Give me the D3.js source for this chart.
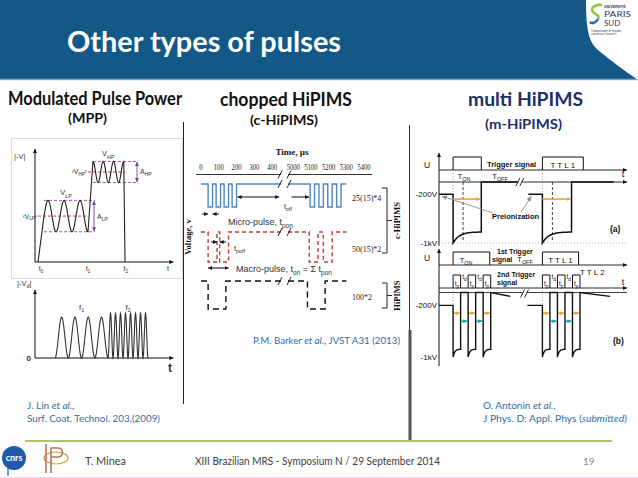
<!DOCTYPE html>
<html>
<head>
<meta charset="utf-8">
<script src="https://cdn.jsdelivr.net/npm/d3@7"></script>
<style>
    body { margin: 0; background: #fff; }
    svg { display: block; }
    .sans { font-family: "Liberation Sans", Arial, sans-serif; }
    .serif { font-family: "Liberation Serif", "Times New Roman", serif; }
    .slide { font-family: Lato, "Open Sans", sans-serif; }
</style>
</head>
<body>
<script>
// ---------- data: MPP (Lin et al.) ----------
var mppTickLabels = ['t0', 't1', 't2', 't'];
var mppTickPos = [4.4, 38.7, 66.4, 97];
var mppLevels = [
    { name: 'LP', mean: 41, amp: 14, from: 6.6, period: 11.67, phase: 0, cycles: 2.75 },
    { name: 'HP', mean: 80.4, amp: 9.4, from: 42.3, period: 7.5, phase: 0.25, cycles: 3 }
];
var mppGuides = [
    { meanFrom: 2.2, meanTo: 38.7, boundFrom: 6.6, boundTo: 43.8 },
    { meanFrom: 38.7, meanTo: 65.7, boundFrom: 42.3, boundTo: 75.2 }
];
var mppEdges = [2.2, 65.7];
var mppBursts = [
    { label: '1', from: 14.6, count: 4, width: 9.7, peak: 65 },
    { label: '2', from: 53.3, count: 8, width: 3.65, peak: 71 }
];

// ---------- data: chopped HiPIMS (Barker et al.) ----------
var timeTicks = [0, 100, 200, 300, 400, 5000, 5100, 5200, 5300, 5400];
var traceLabels = ['25(15)*4', '50(15)*2', '100*2'];
var traceWidths = [25, 50, 100];
var traceStarts = [
    [40, 85, 130, 175, 5095, 5145, 5195, 5245],
    [40, 105, 5090, 5170],
    [40, 5080]
];
var traceEnd = 5300;
var groupLabels = ['c-HiPIMS', 'HiPIMS'];

// ---------- data: multi HiPIMS (Antonin et al.) ----------
var trigA = [[15, 45], [110, 153.5]];
var pulsesA = [
    { pre: 0, on: 15, off: 45, tail: 86 },
    { pre: 95, on: 110, off: 141, tail: 186 }
];
var trig1B = [[15, 54], [110, 148.5]];
var trig2B = [[15, 31, 47], [110, 126, 142]];
var pulseWidthB = 8;
var preB = [0, 94];
var tailB = [76, 182];
var voltTicks = [-200, -1000];
var voltLabels = ['-200V', '-1kV'];
var vPre = -200, vPeak = -1000, vRecA = -820, vRecB = -880, vTailB = -60;

var W = 638, H = 478;
var svg = d3.select('body').append('svg').attr('width', W).attr('height', H);
var defs = svg.append('defs');

function addMarker(id, color, size) {
    defs.append('marker')
        .attr('id', id)
        .attr('viewBox', '0 0 10 10')
        .attr('refX', 10).attr('refY', 5)
        .attr('markerUnits', 'userSpaceOnUse')
        .attr('markerWidth', size).attr('markerHeight', size)
        .attr('orient', 'auto-start-reverse')
        .append('path').attr('d', 'M0,0 L10,5 L0,10 z').attr('fill', color);
}
addMarker('ahK', '#111', 5);
addMarker('ahS', '#111', 4);
addMarker('ahP', '#7d3c98', 4);
addMarker('ahG', '#8a8a8a', 5);
addMarker('ahO', '#f0a030', 4);
addMarker('ahT', '#1aa3b0', 4);

// text with sub / italic parts
function rich(parent, x, y, parts, o) {
    var t = parent.append('text')
        .attr('x', x).attr('y', y)
        .attr('class', o.cls || 'sans')
        .attr('font-size', o.size)
        .attr('text-anchor', o.anchor || 'start')
        .attr('fill', o.fill || '#111');
    if (o.bold) t.attr('font-weight', 'bold');
    if (o.len) t.attr('textLength', o.len).attr('lengthAdjust', 'spacingAndGlyphs');
    if (o.rotate) t.attr('transform', 'rotate(' + o.rotate + ',' + x + ',' + y + ')');
    var shift = 0;
    parts.forEach(function (p) {
        var s = typeof p === 'string' ? [p, null] : p;
        var ts = t.append('tspan').text(s[0]);
        var target = 0;
        if (s[1] === 'sub') {
            target = o.size * 0.28;
            ts.attr('font-size', o.size * 0.72);
        }
        if (s[1] === 'it') ts.attr('font-style', 'italic');
        if (target !== shift) { ts.attr('dy', target - shift); shift = target; }
    });
    return t;
}

function seg(g, x1, y1, x2, y2, stroke, w, extra) {
    var l = g.append('line')
        .attr('x1', x1).attr('y1', y1).attr('x2', x2).attr('y2', y2)
        .attr('stroke', stroke).attr('stroke-width', w);
    if (extra) Object.keys(extra).forEach(function (k) { l.attr(k, extra[k]); });
    return l;
}

function slashes(g, x, y, gap) {
    g.append('rect').attr('x', x - gap / 2).attr('y', y - 1.5).attr('width', gap).attr('height', 3).attr('fill', '#fff');
    [-gap / 2, gap / 2].forEach(function (d) {
        seg(g, x + d - 2, y + 4, x + d + 2, y - 4, '#111', 0.9);
    });
}

var line = d3.line();

// ---------- header ----------
svg.append('rect').attr('width', W).attr('height', 79).attr('fill', '#135887');
seg(svg, 0, 79.5, W, 79.5, '#7aa4c4', 1.5);
svg.append('path').attr('d', 'M586,0 H638 V80 C625,71 610,60 598,50 C589,42 586,32 586,0 Z').attr('fill', '#fff');

var logo = svg.append('g');
logo.append('path').attr('d', 'M602,5 C594,4 589,9 594,13 C597,15 600,16 598,19')
    .attr('fill', 'none').attr('stroke', '#8cc63f').attr('stroke-width', 2.6);
logo.append('path').attr('d', 'M598,19 C596,23 592,24 590,22')
    .attr('fill', 'none').attr('stroke', '#1f6fb2').attr('stroke-width', 2.6);
logo.append('text').attr('x', 604).attr('y', 7.5).attr('class', 'sans').attr('font-size', 3.6)
    .attr('fill', '#2b3d6b').attr('font-weight', 'bold').text('UNIVERSITÉ');
logo.append('text').attr('x', 604).attr('y', 17).attr('class', 'slide').attr('font-size', 8)
    .attr('fill', '#2b3d6b').attr('textLength', 27).attr('lengthAdjust', 'spacingAndGlyphs').text('PARIS');
logo.append('text').attr('x', 604).attr('y', 26).attr('class', 'slide').attr('font-size', 8)
    .attr('fill', '#2b3d6b').text('SUD');
logo.append('text').attr('x', 591).attr('y', 31.5).attr('class', 'sans').attr('font-size', 3)
    .attr('fill', '#444').text('Comprendre le monde,');
logo.append('text').attr('x', 591).attr('y', 35).attr('class', 'sans').attr('font-size', 3)
    .attr('fill', '#444').text('construire l\u2019avenir\u00ae');

svg.append('text').attr('x', 67).attr('y', 52).attr('class', 'slide')
    .attr('font-weight', 700).attr('font-size', 28).attr('fill', '#fff')
    .attr('textLength', 274).attr('lengthAdjust', 'spacingAndGlyphs')
    .text('Other types of pulses');

// ---------- section titles ----------
rich(svg, 8, 105, ['Modulated Pulse Power'], { cls: 'slide', size: 18, bold: true, len: 174 });
rich(svg, 68, 123, ['(MPP)'], { cls: 'slide', size: 14, bold: true, len: 39 });
rich(svg, 220, 106, ['chopped HiPIMS'], { cls: 'slide', size: 19, bold: true, len: 132 });
rich(svg, 250, 125, ['(c-HiPIMS)'], { cls: 'slide', size: 14, bold: true, len: 68 });
rich(svg, 468, 106, ['multi HiPIMS'], { cls: 'slide', size: 19, bold: true, len: 115, fill: '#1c2f66' });
rich(svg, 485, 129, ['(m-HiPIMS)'], { cls: 'slide', size: 14, bold: true, len: 77, fill: '#1c2f66' });

// separators
seg(svg, 183.5, 122, 183.5, 404, '#222', 1);
seg(svg, 409.5, 125, 409.5, 330, '#333', 1);
seg(svg, 410, 330, 410, 440, '#555', 3);

// ---------- MPP panel ----------
var mpp = svg.append('g');
var mx = d3.scaleLinear().domain([0, 100]).range([35, 172]);
var myU = d3.scaleLinear().domain([0, 100]).range([262, 150]);
var myL = d3.scaleLinear().domain([0, 100]).range([358, 295]);

mpp.append('rect').attr('x', 11.5).attr('y', 138.5).attr('width', 171).attr('height', 140)
    .attr('fill', 'none').attr('stroke', '#dcdcdc');

seg(mpp, mx(0), myU(0), mx(0), 149, '#111', 1, { 'marker-end': 'url(#ahS)' });
seg(mpp, mx(0), myU(0), mx(101), myU(0), '#111', 1, { 'marker-end': 'url(#ahS)' });
rich(mpp, 14, 159, ['|-V|'], { size: 7.5, fill: '#333' });
mppTickLabels.forEach(function (lb, i) {
    var parts = lb.length > 1 ? [lb[0], [lb.slice(1), 'sub']] : [lb];
    rich(mpp, mx(mppTickPos[i]), 271, parts, { size: 7, anchor: 'middle', fill: '#333' });
});

function levelPoints(lv) {
    var pts = [], n = Math.round(lv.cycles * 40);
    for (var i = 0; i <= n; i++) {
        var x = lv.from + lv.period * lv.cycles * i / n;
        pts.push([x, lv.mean + lv.amp * Math.sin(2 * Math.PI * (lv.phase + (x - lv.from) / lv.period))]);
    }
    return pts;
}

// guides under the wave
mppLevels.forEach(function (lv, i) {
    var gd = mppGuides[i];
    seg(mpp, mx(gd.meanFrom), myU(lv.mean), mx(gd.meanTo), myU(lv.mean), '#e03b3b', 1, { 'stroke-dasharray': '3,2' });
    [lv.mean + lv.amp, lv.mean - lv.amp].forEach(function (v) {
        seg(mpp, mx(gd.boundFrom), myU(v), mx(gd.boundTo), myU(v), '#9b59b6', 1, { 'stroke-dasharray': '3,2' });
    });
    var ax = mx(gd.boundTo) - 1;
    seg(mpp, ax, myU(lv.mean), ax, myU(lv.mean + lv.amp) + 0.5, '#7d3c98', 0.9, { 'marker-end': 'url(#ahP)' });
    seg(mpp, ax, myU(lv.mean), ax, myU(lv.mean - lv.amp) - 0.5, '#7d3c98', 0.9, { 'marker-end': 'url(#ahP)' });
    rich(mpp, ax + 3, myU(lv.mean) + 2.5, ['A', [lv.name, 'sub']], { size: 7, fill: '#333' });
    rich(mpp, mx(gd.meanFrom) - 1, myU(lv.mean) + 2.5, ['\u2039V', [lv.name, 'sub'], '\u203a'], { size: 6.5, anchor: 'end', fill: '#333' });
    var mid = lv.from + lv.period * lv.cycles / 2;
    rich(mpp, mx(mid), myU(lv.mean + lv.amp) - 5, ['V', [lv.name, 'sub']], { size: 7.5, anchor: 'middle', fill: '#333' });
});

var upperPts = [[mppEdges[0], 0]].concat(levelPoints(mppLevels[0]), levelPoints(mppLevels[1]), [[mppEdges[1], 0]]);
mpp.append('path')
    .attr('d', line(upperPts.map(function (p) { return [mx(p[0]), myU(p[1])]; })))
    .attr('fill', 'none').attr('stroke', '#222').attr('stroke-width', 1.1);

// current bursts
seg(mpp, mx(0), myL(0), mx(0), 290, '#111', 1, { 'marker-end': 'url(#ahS)' });
seg(mpp, mx(0), myL(0), mx(101), myL(0), '#111', 1, { 'marker-end': 'url(#ahS)' });
rich(mpp, 17, 286, ['|-V', ['d', 'sub'], '|'], { size: 7.5, fill: '#333' });
rich(mpp, 31, 361, ['0'], { size: 8, anchor: 'end', bold: true, fill: '#333' });
rich(mpp, 170, 372, ['t'], { size: 12, anchor: 'middle', bold: true, fill: '#333' });

function burstPoints(b) {
    var pts = [], n = 24;
    for (var k = 0; k < b.count; k++) {
        for (var i = 0; i <= n; i++) {
            var s = i / n;
            pts.push([b.from + (k + s) * b.width, b.peak * (1 - Math.cos(2 * Math.PI * s)) / 2]);
        }
    }
    return pts;
}
var lowerPts = [];
mppBursts.forEach(function (b) {
    lowerPts = lowerPts.concat(burstPoints(b));
    rich(mpp, mx(b.from + b.count * b.width / 2), 310, ['f', [b.label, 'sub']], { size: 7.5, anchor: 'middle', fill: '#333' });
});
mpp.append('path')
    .attr('d', line(lowerPts.map(function (p) { return [mx(p[0]), myL(p[1])]; })))
    .attr('fill', 'none').attr('stroke', '#333').attr('stroke-width', 1.1);

rich(mpp, 27, 409, ['J. Lin ', ['et al.', 'it'], ','], { cls: 'slide', size: 10, fill: '#2f6fa8' });
rich(mpp, 27, 422, ['Surf. Coat. Technol. 203,(2009)'], { cls: 'slide', size: 10, fill: '#2f6fa8', len: 133 });

// ---------- chopped HiPIMS panel ----------
var ch = svg.append('g');
var tx = d3.scaleLinear().domain([0, 450, 4970, 5400]).range([201, 281, 288, 364]);

rich(ch, 292, 155, ['Time, \u00b5s'], { cls: 'serif', size: 9, bold: true, anchor: 'middle' });
timeTicks.forEach(function (t) {
    rich(ch, tx(t), 169.5, [String(t)], { cls: 'serif', size: 7.5, anchor: 'middle', fill: '#222', len: String(t).length * 3.3 });
});
seg(ch, 196, 174.5, tx(450), 174.5, '#333', 1);
seg(ch, tx(4970), 174.5, 372, 174.5, '#333', 1);

var rows = [
    { hi: 184, lo: 207, color: '#4f86c0', dash: null },
    { hi: 232, lo: 262, color: '#c23a30', dash: '4,3' },
    { hi: 281, lo: 309, color: '#111', dash: '6,4' }
];

function tracePoints(starts, width, from, to) {
    var pts = [[from, 1]];
    starts.filter(function (s) { return s >= from && s <= to; }).forEach(function (s) {
        pts.push([s, 1], [s, 0], [s + width, 0], [s + width, 1]);
    });
    pts.push([to, 1]);
    return pts;
}

traceStarts.forEach(function (starts, i) {
    var r = rows[i];
    var ty = d3.scaleLinear().domain([0, 1]).range([r.lo, r.hi]);
    [[0, 450], [4970, traceEnd]].forEach(function (span) {
        var p = ch.append('path')
            .attr('d', line(tracePoints(starts, traceWidths[i], span[0], span[1]).map(function (q) { return [tx(q[0]), ty(q[1])]; })))
            .attr('fill', 'none').attr('stroke', r.color).attr('stroke-width', 1.4);
        if (r.dash) p.attr('stroke-dasharray', r.dash);
    });
    rich(ch, 352, (r.hi + r.lo) / 2 + 5, [traceLabels[i]], { cls: 'serif', size: 8, fill: '#222' });
});
[174.5, rows[0].hi, rows[1].hi, rows[2].hi].forEach(function (y) {
    [tx(450) - 1, tx(4970) + 1].forEach(function (x) {
        seg(ch, x - 2, y + 4, x + 2, y - 4, '#111', 0.9);
    });
});

// annotations
seg(ch, tx(200) + 1, 197, tx(440), 197, '#111', 1, { 'marker-start': 'url(#ahS)', 'marker-end': 'url(#ahS)' });
seg(ch, tx(4990), 197, tx(5095) - 1, 197, '#111', 1, { 'marker-end': 'url(#ahS)' });
rich(ch, 284, 209, ['t', ['off', 'sub']], { size: 7.5, fill: '#333' });

seg(ch, 202, 214, tx(40), 214, '#111', 1, { 'marker-end': 'url(#ahS)' });
seg(ch, 219, 214, tx(65), 214, '#111', 1, { 'marker-end': 'url(#ahS)' });
rich(ch, 228, 225, ['Micro-pulse, t', ['pon', 'sub']], { size: 9, fill: '#333' });

seg(ch, 211, 242, tx(90), 242, '#111', 1, { 'marker-end': 'url(#ahS)' });
seg(ch, 226, 242, tx(105), 242, '#111', 1, { 'marker-end': 'url(#ahS)' });
rich(ch, 234, 251, ['t', ['poff', 'sub']], { size: 7.5, fill: '#333' });

seg(ch, tx(40), 268, tx(155), 268, '#111', 1.1, { 'marker-start': 'url(#ahS)', 'marker-end': 'url(#ahS)' });
rich(ch, 236, 272, ['Macro-pulse, t', ['on', 'sub'], ' = \u03a3 t', ['pon', 'sub']], { size: 9, fill: '#333' });

rich(ch, 191, 237, ['Voltage, v'], { cls: 'serif', size: 8.5, bold: true, anchor: 'middle', rotate: -90 });

// group brackets
[[188, 253], [283, 308]].forEach(function (b, i) {
    ch.append('path').attr('d', 'M382,' + b[0] + ' H387 V' + b[1] + ' H382 M387,' + ((b[0] + b[1]) / 2) + ' H392')
        .attr('fill', 'none').attr('stroke', '#222').attr('stroke-width', 1);
    rich(ch, 400, (b[0] + b[1]) / 2, [groupLabels[i]], { cls: 'serif', size: 8.5, bold: true, anchor: 'middle', rotate: -90 });
});

rich(ch, 253, 344, ['P.M. Barker ', ['et al.', 'it'], ', JVST A31 (2013)'], { cls: 'slide', size: 10, fill: '#2f6fa8', len: 147 });

// ---------- multi HiPIMS panel ----------
var mh = svg.append('g');
var rx = d3.scaleLinear().domain([0, 200]).range([439, 627]);
var va = d3.scaleLinear().domain([0, -1000]).range([182, 243]);
var vb = d3.scaleLinear().domain([0, -1000]).range([292.5, 357]);

function box(g, x1, x2, yb, h) {
    g.append('path').attr('d', 'M' + x1 + ',' + yb + ' V' + (yb - h) + ' H' + x2 + ' V' + yb)
        .attr('fill', 'none').attr('stroke', '#111').attr('stroke-width', 1);
}

function recovery(on, off, vEnd) {
    var pts = [], n = 20, tau = (off - on) * 0.22;
    for (var i = 0; i <= n; i++) {
        var t = on + (off - on) * i / n;
        pts.push([t, vPeak + (vEnd - vPeak) * (1 - Math.exp(-(t - on) / tau)) / (1 - Math.exp(-(off - on) / tau))]);
    }
    return pts;
}

// axes
seg(mh, rx(0), va(-1000) + 3, rx(0), 153, '#111', 1, { 'marker-end': 'url(#ahS)' });
seg(mh, rx(0), 366, rx(0), 249, '#111', 1, { 'marker-end': 'url(#ahS)' });
[170, va(0), 265, 288].forEach(function (y) {
    seg(mh, rx(0), y, rx(200), y, '#111', 0.9, { 'marker-end': 'url(#ahS)' });
});
seg(mh, rx(0), vb(0), rx(200), vb(0), '#111', 0.8);
seg(mh, rx(0), va(-1000), rx(200), va(-1000), '#999', 0.8, { 'stroke-dasharray': '1,2' });
rich(mh, 427, 168, ['U'], { size: 8.5, anchor: 'middle' });
rich(mh, 427, 261, ['U'], { size: 8.5, anchor: 'middle' });
rich(mh, 623, 177, ['t'], { size: 9, anchor: 'middle' });
rich(mh, 623, 285, ['t'], { size: 9, anchor: 'middle' });
voltTicks.forEach(function (v, i) {
    rich(mh, 437, va(v) + 3, [voltLabels[i]], { size: 8, anchor: 'end' });
    rich(mh, 437, vb(v) + 3, [voltLabels[i]], { size: 8, anchor: 'end' });
});

// (a) trigger and single pulses
trigA.forEach(function (r) { box(mh, rx(r[0]), rx(r[1]), 170, 13); });
rich(mh, 487, 167, ['Trigger  signal'], { size: 7.5, bold: true });
rich(mh, (rx(trigA[1][0]) + rx(trigA[1][1])) / 2, 167.5, ['T T L 1'], { size: 8, anchor: 'middle' });
rich(mh, 464, 179, ['T', ['ON', 'sub']], { size: 7.5, anchor: 'middle' });
rich(mh, 500, 179, ['T', ['OFF', 'sub']], { size: 7.5, anchor: 'middle' });

pulsesA.forEach(function (p) {
    seg(mh, rx(p.on), 170, rx(p.on), va(-1000), '#888', 0.8, { 'stroke-dasharray': '1,2' });
    var d = rx(p.on) + 10;
    seg(mh, d, va(0), d, va(-1000) - 2, '#111', 0.8, { 'stroke-dasharray': '3,2' });
    var pts = [[p.pre, vPre], [p.on, vPre]].concat(recovery(p.on, p.off, vRecA), [[p.off, 0], [p.tail, 0]]);
    mh.append('path')
        .attr('d', line(pts.map(function (q) { return [rx(q[0]), va(q[1])]; })))
        .attr('fill', 'none').attr('stroke', '#111').attr('stroke-width', 1.5);
    seg(mh, rx(p.on), va(-280), rx(p.off) - 1, va(-280), '#f0a030', 1.6, { 'marker-end': 'url(#ahO)' });
});
slashes(mh, rx(86), va(0), 4);
rich(mh, 492, 219, ['Preionization'], { size: 7.5, bold: true });
seg(mh, 493, 213, rx(0) + 3, va(-200) + 2, '#8a8a8a', 0.9, { 'marker-end': 'url(#ahG)' });
seg(mh, 521, 212, rx(pulsesA[1].pre) + 3, va(-200) + 2, '#8a8a8a', 0.9, { 'marker-end': 'url(#ahG)' });
rich(mh, 610, 232, ['(a)'], { size: 8.5, bold: true });

// (b) double trigger and pulse trains
trig1B.forEach(function (r) { box(mh, rx(r[0]), rx(r[1]), 265, 13); });
rich(mh, 466, 262.5, ['T', ['ON', 'sub']], { size: 7.5, anchor: 'middle' });
rich(mh, (rx(trig1B[1][0]) + rx(trig1B[1][1])) / 2, 262.5, ['T T L 1'], { size: 8, anchor: 'middle' });
rich(mh, 497, 254, ['1st Trigger'], { size: 7, bold: true });
rich(mh, 492, 262, ['signal'], { size: 7, bold: true });
rich(mh, 525, 262, ['T', ['OFF', 'sub']], { size: 7.5, anchor: 'middle' });
rich(mh, 497, 277, ['2nd Trigger'], { size: 7, bold: true });
rich(mh, 497, 285, ['signal'], { size: 7, bold: true });
rich(mh, 580, 275, ['T T L 2'], { size: 8 });

trig2B.forEach(function (group, gi) {
    group.forEach(function (s, k) {
        box(mh, rx(s), rx(s + pulseWidthB), 288, 13);
        rich(mh, (rx(s) + rx(s + pulseWidthB)) / 2, 286, ['t', ['p', 'sub']], { size: 6.5, anchor: 'middle' });
        if (k < group.length - 1) {
            rich(mh, (rx(s + pulseWidthB) + rx(group[k + 1])) / 2, 279, ['t', ['d', 'sub']], { size: 6.5, anchor: 'middle' });
            seg(mh, rx(s + pulseWidthB) + 1, vb(-445), rx(group[k + 1]) - 1, vb(-445), '#1aa3b0', 1.6, { 'marker-end': 'url(#ahT)' });
        }
        seg(mh, rx(s), vb(-320), rx(s + pulseWidthB) - 1, vb(-320), '#f0a030', 1.6, { 'marker-end': 'url(#ahO)' });
    });
    seg(mh, rx(group[0]), 288, rx(group[0]), vb(-200), '#888', 0.8, { 'stroke-dasharray': '1,2' });

    var pts = [[preB[gi], vPre]];
    group.forEach(function (s, k) {
        pts = pts.concat([[s, k === 0 ? vPre : 0]], recovery(s, s + pulseWidthB, vRecB), [[s + pulseWidthB, 0]]);
    });
    pts.push([tailB[gi], vTailB]);
    mh.append('path')
        .attr('d', line(pts.map(function (q) { return [rx(q[0]), vb(q[1])]; })))
        .attr('fill', 'none').attr('stroke', '#111').attr('stroke-width', 1.4);
});
slashes(mh, rx(91), vb(0) + 1, 4);
rich(mh, 613, 344, ['(b)'], { size: 8.5, bold: true });

rich(mh, 483, 409, ['O. Antonin  ', ['et al.', 'it'], ','], { cls: 'slide', size: 10, fill: '#2f6fa8' });
rich(mh, 483, 422, ['J Phys. D:  Appl. Phys (', ['submitted', 'it'], ')'], { cls: 'slide', size: 10, fill: '#2f6fa8', len: 144 });

// ---------- footer ----------
seg(svg, 25, 441, 612, 441, '#8fb23e', 1.5);
svg.append('circle').attr('cx', 14).attr('cy', 458).attr('r', 12).attr('fill', '#1d5aa7');
svg.append('text').attr('x', 14).attr('y', 461).attr('text-anchor', 'middle').attr('class', 'slide')
    .attr('font-size', 9).attr('font-weight', 700).attr('fill', '#fff').text('cnrs');
seg(svg, 8, 468, 8, 476, '#1d5aa7', 1.2);
svg.append('ellipse').attr('cx', 56).attr('cy', 458).attr('rx', 12).attr('ry', 6)
    .attr('fill', 'none').attr('stroke', '#e2933b').attr('stroke-width', 1.2);
svg.append('path').attr('d', 'M46,444 V473 M51,473 V448 H58 C64,448 64,457 58,457 H51')
    .attr('fill', 'none').attr('stroke', '#b07a5a').attr('stroke-width', 1.6);

rich(svg, 85, 465, ['T. Minea'], { cls: 'slide', size: 10.5, fill: '#404040', len: 41 });
rich(svg, 195, 465, ['XIII Brazilian MRS - Symposium N / 29 September 2014'], { cls: 'slide', size: 10.5, fill: '#404040', len: 245 });
rich(svg, 583, 465, ['19'], { cls: 'slide', size: 10, fill: '#888' });
seg(svg, 0, 477.5, W, 477.5, '#efd3ef', 1.2);
</script>
</body>
</html>
